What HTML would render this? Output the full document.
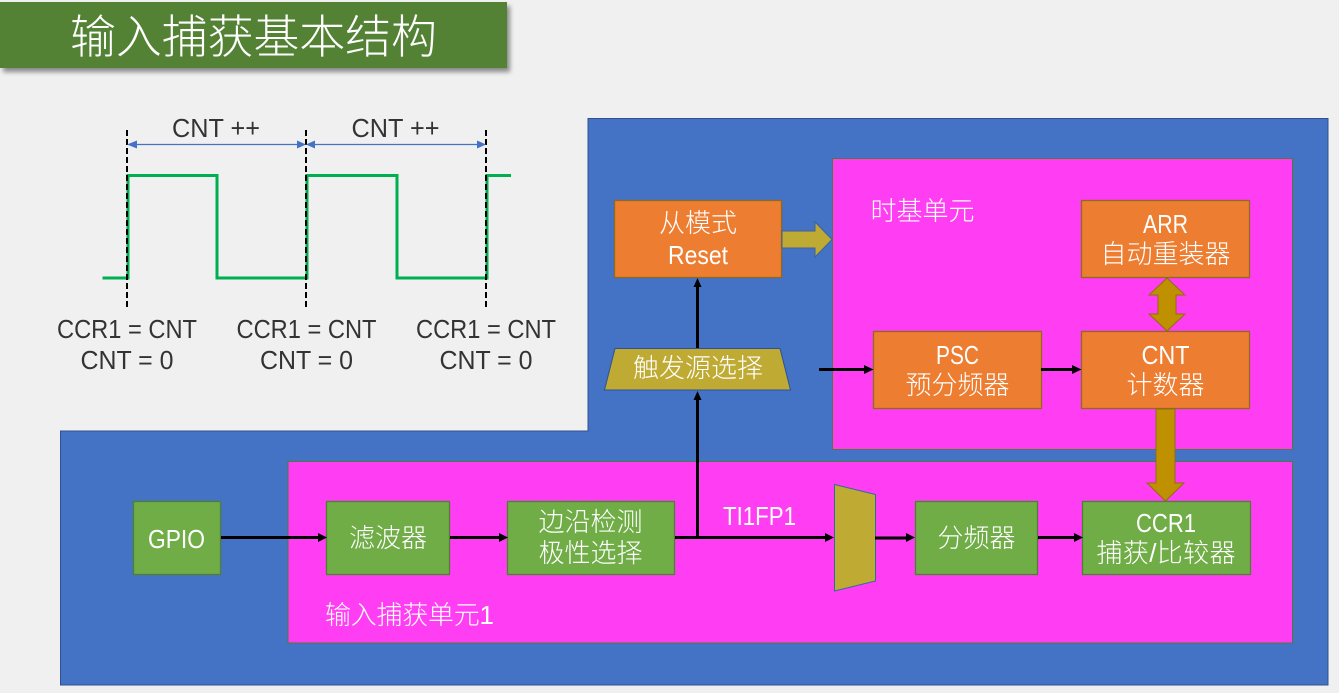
<!DOCTYPE html>
<html lang="zh">
<head>
<meta charset="utf-8">
<style>
html,body{margin:0;padding:0;background:#f0f0f0;width:1339px;height:693px;overflow:hidden}
svg{display:block}
text{font-family:"Liberation Sans","Noto Sans CJK SC",sans-serif;fill:#fff;text-anchor:middle}
.c{font-size:26px;font-weight:300}
.l{font-size:26px}
.k{font-size:26px;fill:#333}
.o{fill:#ed7d31;stroke:#8f6a1c;stroke-width:1.3}
.g{fill:#70ad47;stroke:#507e32;stroke-width:1.3}
.p{fill:#ff3ef3;stroke:#4f7a3a;stroke-width:1}
.a{stroke:#000;stroke-width:3;fill:none}
.h{fill:#000}
.w{stroke:#00b050;stroke-width:3;fill:none}
.d{stroke:#000;stroke-width:2;stroke-dasharray:6 3;fill:none}
.b{stroke:#4472c4;stroke-width:1.3;fill:none}
.bh{fill:#4472c4}
</style>
</head>
<body>
<svg width="1339" height="693" viewBox="0 0 1339 693" xmlns="http://www.w3.org/2000/svg">
<defs><filter id="s" x="-5%" y="-20%" width="110%" height="150%"><feGaussianBlur stdDeviation="2.5"/></filter></defs>
<rect width="1339" height="693" fill="#f0f0f0"/>

<!-- Title -->
<rect x="3" y="6" width="507" height="66" fill="#8a8a8a" filter="url(#s)"/>
<rect x="0" y="2" width="507" height="66" fill="#548235"/>
<text x="253.500" y="53" style="font-size:46px;font-weight:300" textLength="367" lengthAdjust="spacing">输入捕获基本结构</text>

<!-- Waveform -->
<polyline class="w" points="102.500,278 128,278 128,175.500 217,175.500 217,278 307,278 307,175.500 397,175.500 397,278 487,278 487,175.500 511,175.500"/>
<line class="d" x1="127" y1="130" x2="127" y2="307"/>
<line class="d" x1="306" y1="130" x2="306" y2="307"/>
<line class="d" x1="486" y1="130" x2="486" y2="307"/>
<line class="b" x1="130" y1="144.500" x2="303" y2="144.500"/>
<line class="b" x1="310" y1="144.500" x2="483" y2="144.500"/>
<polygon class="bh" points="127,144.500 137,140.500 137,148.500"/>
<polygon class="bh" points="306,144.500 297,140.500 297,148.500"/>
<polygon class="bh" points="306,144.500 315,140.500 315,148.500"/>
<polygon class="bh" points="486,144.500 477,140.500 477,148.500"/>
<text class="k" x="216" y="137" textLength="88" lengthAdjust="spacingAndGlyphs">CNT ++</text>
<text class="k" x="395.500" y="137" textLength="88" lengthAdjust="spacingAndGlyphs">CNT ++</text>
<text class="k" x="127" y="338" textLength="140" lengthAdjust="spacingAndGlyphs">CCR1 = CNT</text>
<text class="k" x="306.500" y="338" textLength="140" lengthAdjust="spacingAndGlyphs">CCR1 = CNT</text>
<text class="k" x="486" y="338" textLength="140" lengthAdjust="spacingAndGlyphs">CCR1 = CNT</text>
<text class="k" x="127" y="369" textLength="93" lengthAdjust="spacingAndGlyphs">CNT = 0</text>
<text class="k" x="306.500" y="369" textLength="93" lengthAdjust="spacingAndGlyphs">CNT = 0</text>
<text class="k" x="486" y="369" textLength="93" lengthAdjust="spacingAndGlyphs">CNT = 0</text>

<!-- Blue background -->
<polygon points="588,118.500 1328,118.500 1328,685 60.500,685 60.500,431 588,431" fill="#4472c4" stroke="#2f528f" stroke-width="1"/>

<!-- Pink units -->
<rect class="p" x="832.500" y="158.500" width="460" height="291"/>
<rect class="p" x="288" y="461.500" width="1004.500" height="181.500"/>

<!-- Slave mode -->
<rect class="o" x="614.500" y="200.500" width="167" height="77"/>
<text class="c" x="698" y="232">从模式</text>
<text class="l" x="698" y="264" textLength="60" lengthAdjust="spacingAndGlyphs">Reset</text>
<polygon points="782,231 815,231 815,222 832,239.500 815,257 815,248 782,248" fill="#bfab33" stroke="#3f6298" stroke-width="1"/>

<!-- Trigger select -->
<polygon points="615,348.500 780,348.500 790.500,390 604.500,390" fill="#bfab33" stroke="#2f528f" stroke-width="1"/>
<text class="c" x="698" y="377">触发源选择</text>

<!-- Time-base -->
<text class="c" x="922.500" y="220">时基单元</text>
<rect class="o" x="873.500" y="331.500" width="168" height="77"/>
<text class="l" x="957.500" y="364" textLength="43" lengthAdjust="spacingAndGlyphs">PSC</text>
<text class="c" x="957.500" y="394">预分频器</text>
<rect class="o" x="1081.500" y="200.500" width="168" height="77"/>
<text class="l" x="1165.500" y="233" textLength="45" lengthAdjust="spacingAndGlyphs">ARR</text>
<text class="c" x="1165.500" y="263">自动重装器</text>
<rect class="o" x="1081.500" y="331.500" width="168" height="77"/>
<text class="l" x="1165.500" y="364" textLength="48" lengthAdjust="spacingAndGlyphs">CNT</text>
<text class="c" x="1165.500" y="394">计数器</text>
<polygon points="1167,278 1185,295 1176,295 1176,314 1185,314 1167,331 1149,314 1158,314 1158,295 1149,295" fill="#bf9000" stroke="#8f6a1c" stroke-width="1"/>

<!-- Input capture unit -->
<rect class="g" x="133.500" y="501.500" width="87" height="73"/>
<text class="l" x="176.500" y="548" textLength="57" lengthAdjust="spacingAndGlyphs">GPIO</text>
<rect class="g" x="326.500" y="501.500" width="123" height="73"/>
<text class="c" x="388" y="547">滤波器</text>
<rect class="g" x="507.500" y="501.500" width="167" height="73"/>
<text class="c" x="590.500" y="531">边沿检测</text>
<text class="c" x="590.500" y="562">极性选择</text>
<polygon points="834.500,484.500 875.500,494.500 875.500,581 834.500,591" fill="#bfab33" stroke="#2f6a9f" stroke-width="1"/>
<rect class="g" x="915.500" y="501.500" width="122" height="73"/>
<text class="c" x="976.500" y="547">分频器</text>
<rect class="g" x="1082.500" y="501.500" width="168" height="73"/>
<text class="l" x="1166" y="532" textLength="60" lengthAdjust="spacingAndGlyphs">CCR1</text>
<text class="c" x="1166" y="562" textLength="139" lengthAdjust="spacing">捕获/比较器</text>
<text class="l" x="759.500" y="525" textLength="73" lengthAdjust="spacingAndGlyphs">TI1FP1</text>
<text class="c" x="409.500" y="624" textLength="169" lengthAdjust="spacing">输入捕获单元1</text>
<polygon points="1156,409 1175,409 1175,483 1184,483 1165.500,501 1147,483 1156,483" fill="#bf9000" stroke="#8f6a1c" stroke-width="1"/>

<!-- Black arrows -->
<line class="a" x1="221" y1="537.500" x2="319" y2="537.500"/><polygon class="h" points="327,537.500 318,533 318,542"/>
<line class="a" x1="450" y1="537.500" x2="500" y2="537.500"/><polygon class="h" points="508,537.500 499,533 499,542"/>
<line class="a" x1="675" y1="537.500" x2="826" y2="537.500"/><polygon class="h" points="834,537.500 825,533 825,542"/>
<line class="a" x1="875" y1="538" x2="908" y2="538"/><polygon class="h" points="915,537.500 906,533 906,542"/>
<line class="a" x1="1038" y1="537.500" x2="1075" y2="537.500"/><polygon class="h" points="1083,537.500 1074,533 1074,542"/>
<line class="a" x1="697.500" y1="537.500" x2="697.500" y2="398"/><polygon class="h" points="697.500,391 693.500,400 701.500,400"/>
<line class="a" x1="697.500" y1="348" x2="697.500" y2="285"/><polygon class="h" points="697.500,278 693.500,287 701.500,287"/>
<line class="a" x1="819" y1="369.500" x2="866" y2="369.500"/><polygon class="h" points="873.500,369.500 864,365 864,374"/>
<line class="a" x1="1041" y1="369.500" x2="1074" y2="369.500"/><polygon class="h" points="1081.500,369.500 1072,365 1072,374"/>
</svg>
</body>
</html>
